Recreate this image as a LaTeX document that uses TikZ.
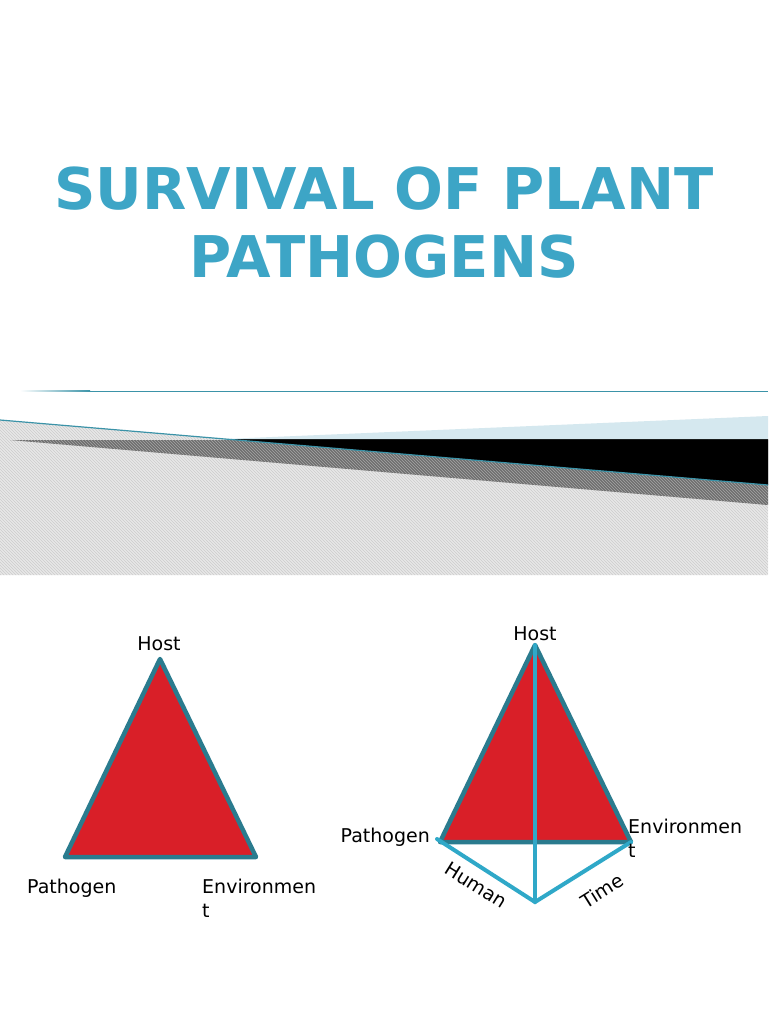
\documentclass[tikz,border=0pt]{standalone}
\usepackage{fontspec}
\setmainfont{DejaVu Sans}
\usetikzlibrary{patterns}
\definecolor{titleblue}{HTML}{3DA5C6}
\definecolor{tealdark}{HTML}{2A7B8E}
\definecolor{tealline}{HTML}{3B93A8}
\definecolor{lightblue}{HTML}{2FA8C8}
\definecolor{redfill}{HTML}{D91F28}
\definecolor{paleblue}{HTML}{D5E8EF}
\definecolor{hatchbg}{HTML}{E8E8E8}
\definecolor{darkband}{HTML}{6E6E6E}
\tikzset{
  tri/.style={draw=tealdark, line width=4.5pt, line join=round, fill=redfill},
  blueline/.style={draw=lightblue, line width=4pt, line cap=round},
  lbl/.style={font=\fontsize{19}{23.5}\selectfont, inner sep=0pt, text=black},
}
\begin{document}
\begin{tikzpicture}[x=1pt,y=-1pt]
\useasboundingbox (0,0) rectangle (768,1024);
\fill[white] (0,0) rectangle (768,1024);
% title
\node[font=\fontsize{57.5}{68}\selectfont\bfseries, text=titleblue, align=center, inner sep=0pt, anchor=base] (title) at (384,277) {SURVIVAL OF PLANT\\PATHOGENS};
% band
\fill[hatchbg] (0,420) -- (225,439) -- (768,485) -- (768,575) -- (0,575) -- cycle;
\fill[pattern=north west lines, pattern color=gray!40] (0,420) -- (225,439) -- (768,485) -- (768,575) -- (0,575) -- cycle;
\fill[darkband] (10,440) -- (768,440) -- (768,505) -- cycle;
\fill[pattern=north west lines, pattern color=gray!70] (10,440) -- (768,440) -- (768,505) -- cycle;
\fill[black] (225,439) -- (768,439) -- (768,485) -- cycle;
\fill[paleblue] (225,439) -- (768,416) -- (768,439) -- cycle;
\draw[tealline, line width=1.2pt] (0,420) -- (225,439) -- (768,485);
\shade[left color=white, right color=tealline] (20,390.5) rectangle (90,391.7);
\fill[tealline] (90,390.5) rectangle (768,391.7);
% left triangle
\coordinate (H1) at (160,659);
\coordinate (P1) at (65,857);
\coordinate (E1) at (256,857);
\draw[tri] (H1) -- (P1) -- (E1) -- cycle;
\node[lbl, anchor=base] (h1) at (159,650) {Host};
\node[lbl, anchor=base west] (p1) at (27,893) {Pathogen};
\node[lbl, anchor=north west, align=left] (e1) at (202,879) {Environmen\\t};
% right figure
\coordinate (H2) at (535,645);
\coordinate (P2) at (440,842);
\coordinate (E2) at (631,842);
\coordinate (B2) at (535,902);
\coordinate (P2o) at (437,839);
\draw[tri] (H2) -- (P2) -- (E2) -- cycle;
\draw[blueline] (H2) -- (B2);
\draw[blueline] (P2o) -- (B2) -- (E2);
\node[lbl, anchor=base] (h2) at (535,640) {Host};
\node[lbl, anchor=base east] (p2) at (430,842) {Pathogen};
\node[lbl, anchor=north west, align=left] (e2) at (628,819) {Environmen\\t};
\node[lbl, rotate=-32] (hu) at (476,885) {Human};
\node[lbl, rotate=32] (ti) at (602,891) {Time};
\end{tikzpicture}
\end{document}
